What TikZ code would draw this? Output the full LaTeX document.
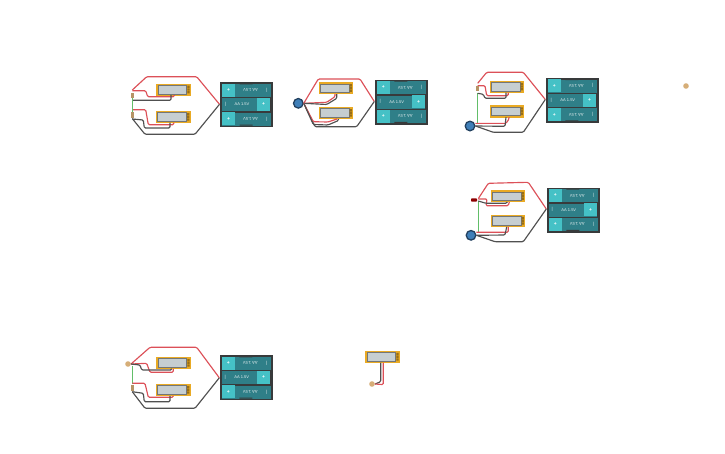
\documentclass[tikz,border=0pt]{standalone}
\usepackage{fontspec}
\setmainfont{Liberation Sans}
\definecolor{wred}{HTML}{DC5058}
\definecolor{wblk}{HTML}{505050}
\definecolor{wgrn}{HTML}{62BE69}
\definecolor{cellT}{HTML}{2F7F88}
\definecolor{cellL}{HTML}{45C1C6}
\definecolor{holder}{HTML}{383A3B}
\definecolor{frameO}{HTML}{E9AA24}
\definecolor{grayP}{HTML}{C6CED1}
\definecolor{potB}{HTML}{D6AE78}
\definecolor{knobB}{HTML}{3F7FB8}
\definecolor{knobR}{HTML}{22405F}
\tikzset{
 holderbox/.style={fill=holder,draw=none,minimum width=53pt,minimum height=45pt,inner sep=0,anchor=north west},
 cellbox/.style={fill=cellT,draw=none,minimum width=48.5pt,minimum height=13pt,inner sep=0,anchor=north west},
 plusbox/.style={fill=cellL,draw=none,minimum width=13pt,minimum height=13pt,inner sep=0,text=white,font=\fontsize{5}{5}\selectfont\bfseries},
 celltext/.style={text=white!90!cellT,inner sep=0,font=\fontsize{4}{4}\selectfont},
 motorbox/.style={fill=frameO,draw=none,minimum width=34.7pt,minimum height=12.4pt,inner sep=0,anchor=north west},
 screenbox/.style={fill=grayP,draw=wblk!70!grayP,line width=.25pt,minimum width=28.8pt,minimum height=8.6pt,inner sep=0,anchor=west},
 wr/.style={draw=wred,line width=1.15pt,rounded corners=1.2pt},
 wb/.style={draw=wblk,line width=1.15pt,rounded corners=1.2pt},
 wg/.style={draw=wgrn,line width=1.1pt},
 knob/.style={circle,fill=knobB,draw=knobR,line width=1.3pt,minimum size=9.6pt,inner sep=0},
 pot/.style={circle,fill=potB,draw=none,minimum size=5.6pt,inner sep=0},
 swt/.style={rectangle,fill=potB!85!black,draw=none,minimum width=2.6pt,minimum height=5.5pt,inner sep=0},
 led/.style={rectangle,rounded corners=.8pt,fill=red!55!black,draw=none,minimum width=6pt,minimum height=3.2pt,inner sep=0},
}
\newcommand{\battery}[3]{%
 \node[holderbox] (#1) at (#2,#3) {};
 \node[cellbox] (#1a) at (#2+2.6,#3+1.6) {};
 \node[cellbox] (#1b) at (#2+2.2,#3+16) {};
 \node[cellbox] (#1c) at (#2+2.6,#3+30.4) {};
 \fill[holder] (#2+20,#3+1.5) rectangle (#2+33,#3+2.4) (#2+20,#3+42.6) rectangle (#2+33,#3+43.5);
 \node[plusbox] (#1ap) at (#2+9.1,#3+8.1) {+};
 \node[plusbox] (#1bp) at (#2+44.2,#3+22.5) {+};
 \node[plusbox] (#1cp) at (#2+9.1,#3+36.9) {+};
 \node[celltext,rotate=180] (#1at) at (#2+31,#3+8.1) {AA 1.5V};
 \node[celltext] (#1bt) at (#2+22.5,#3+22.5) {AA 1.5V};
 \node[celltext,rotate=180] (#1ct) at (#2+31,#3+36.9) {AA 1.5V};
 \node[celltext,font=\fontsize{4.5}{4.5}\selectfont] (#1am) at (#2+47.5,#3+8.1) {|};
 \node[celltext,font=\fontsize{4.5}{4.5}\selectfont] (#1bm) at (#2+6,#3+22.5) {|};
 \node[celltext,font=\fontsize{4.5}{4.5}\selectfont] (#1cm) at (#2+47.5,#3+36.9) {|};
}
\newcommand{\motor}[3]{%
 \node[motorbox] (#1) at (#2,#3) {};
 \node[screenbox] (#1s) at (#2+1.5,#3+6.2) {};
 \fill[black!35!frameO] (#2+31.4,#3+2.4) rectangle (#2+33.6,#3+4.6) (#2+31.4,#3+5.1) rectangle (#2+33.6,#3+7.3) (#2+31.4,#3+7.8) rectangle (#2+33.6,#3+10);
}
\begin{document}
\begin{tikzpicture}[x=1pt,y=-1pt]
\useasboundingbox (0,0) rectangle (725,453);
% ---------- circuit 1
\battery{ba}{219.5}{82}
\motor{ma}{156}{83.3}
\motor{mb}{155.7}{110.6}
\coordinate (ta) at (219.5,104.3);
\draw[wr] (ta) -- (196.7,76.7) -- (146.7,76.7) -- (132.3,90);
\draw[wb] (ta) -- (195,134.3) -- (145,134.3) -- (132.3,118.6);
\draw[wr] (132.3,90.7) -- (145.7,90.7) -- (147.7,96.8) -- (174.3,96.8) -- (174.3,95);
\draw[wb] (132.3,100.3) -- (171,100.3) -- (171,95);
\draw[wr] (132.3,109.7) -- (145.7,109.7) -- (148.3,124.7) -- (173.7,124.7) -- (173.7,122.5);
\draw[wb] (132.3,119) -- (143.3,120) -- (144.3,128) -- (170,128) -- (170,122.5);
\draw[wg] (132.3,98) -- (132.3,112);
\node[swt] (sa) at (132.3,95.5) {};
\node[swt] (sb) at (132.3,115) {};
% ---------- circuit 2
\battery{bb}{374.3}{79.3}
\motor{mc}{318.3}{81.8}
\motor{md}{318.3}{106.7}
\node[knob] (ka) at (298.3,103.3) {};
\coordinate (tb) at (374.3,101.5);
\draw[wr] (tb) -- (360,79) -- (318.3,79) -- (ka.east);
\draw[wb] (tb) -- (356.7,126.7) -- (315,126.7) -- (ka.east);
\draw[wr] (ka.east) -- (326.7,102.3) -- (335,96.7) -- (335,94);
\draw[wb] (ka.east) -- (326.7,104.5) -- (336.8,98.3) -- (336.8,94);
\draw[wr] (ka.east) -- (313.3,121.7) -- (328,122) -- (337,119);
\draw[wb] (ka.east) -- (313.3,124.5) -- (328,125) -- (338.5,120.5) -- (338.5,119);
% ---------- circuit 3
\battery{bc}{545.3}{77.7}
\motor{me}{489.3}{80.4}
\motor{mf}{489.3}{105}
\node[knob] (kb) at (470,126) {};
\coordinate (tc) at (545.3,99.5);
\draw[wg] (477.7,93) -- (477.7,123);
\draw[wr] (tc) -- (523.3,72.3) -- (486.7,72.3) -- (477.7,83.3);
\draw[wb] (tc) -- (523.3,132.3) -- (493.3,132.3) -- (kb.east);
\draw[wr] (477.7,85.7) -- (485,85.7) -- (486.7,95.7) -- (508.3,95.7) -- (508.3,92.5);
\draw[wb] (477.7,93.3) -- (483.3,94.3) -- (485,98.3) -- (506,98.3) -- (506,92.5);
\draw[wr] (kb.east) ++(0,-2.6) -- (506,123.4) -- (509,119) -- (509,117.2);
\draw[wb] (kb.east) -- (505,126.3) -- (506,117.2);
\node[swt] (sc) at (477.7,88.3) {};
% ---------- circuit 4
\battery{bd}{546.3}{187.3}
\motor{mg}{490.3}{189.8}
\motor{mh}{490.3}{214.5}
\node[knob] (kc) at (471,235.3) {};
\coordinate (td) at (546.3,209);
\draw[wg] (478.3,201) -- (478.3,232.3);
\draw[wr] (td) -- (528.3,182.3) -- (488.3,183.3) -- (478.3,198.6);
\draw[wb] (td) -- (523.3,241.7) -- (495,241.7) -- (kc.east);
\draw[wr] (478.3,199) -- (487,199) -- (486,205.7) -- (508.3,205.7) -- (509.3,202);
\draw[wb] (478.3,201) -- (486,203.3) -- (506.7,203.3) -- (507.3,202);
\draw[wr] (kc.east) ++(0,-3) -- (508.3,232.3) -- (508.3,226.8);
\draw[wb] (kc.east) -- (505,235) -- (506.7,226.8);
\node[led] (la) at (474,200) {};
% ---------- circuit 5
\battery{be}{219.3}{355}
\motor{mi}{156}{356.6}
\motor{mj}{155.7}{383.6}
\node[pot] (pa) at (128,364) {};
\coordinate (te) at (219.3,377.8);
\draw[wg] (132.3,366) -- (132.3,384);
\draw[wr] (te) -- (196.7,347.3) -- (150,347.3) -- (pa.east);
\draw[wb] (te) -- (195,408.3) -- (145,408.3) -- (132.3,391.7);
\draw[wr] (pa.east) -- (146.7,363.3) -- (150,372.3) -- (173.3,372.3) -- (173.3,368.8);
\draw[wb] (pa.east) -- (140,365) -- (141.7,370) -- (171.7,370) -- (171.7,368.8);
\draw[wr] (132.3,383.3) -- (145,383.3) -- (148.3,397.3) -- (173.3,397.3) -- (173.3,395.8);
\draw[wb] (132.3,391.7) -- (143.3,393.3) -- (144.3,401.7) -- (170,401.7) -- (170,395.8);
\node[swt] (sd) at (132.3,387.8) {};
% ---------- lone motor
\motor{mk}{365}{350.5}
\node[pot] (pb) at (372,384) {};
\draw[wb] (380.7,362.7) -- (380.7,381.7) -- (pb.east);
\draw[wr] (383.3,362.7) -- (383.3,384.6) -- (pb.east);
% ---------- lone part
\node[pot] (pc) at (686,86) {};
\end{tikzpicture}
\end{document}
